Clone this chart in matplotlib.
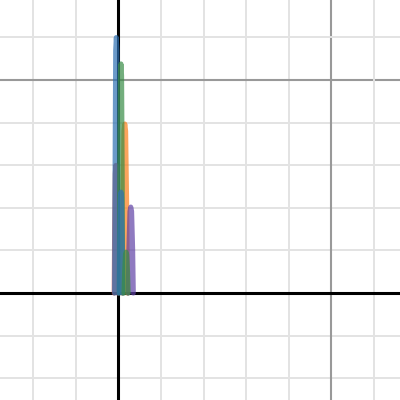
import matplotlib
matplotlib.use("Agg")
import matplotlib.pyplot as plt
import numpy as np

# Curves (x, y in grid units, axis origin at 0,0)
red_x = [-0.10, -0.09, -0.075, -0.06, -0.045, -0.03, -0.02]
red_y = [0.0, 1.5, 2.8, 3.0, 2.8, 1.5, 0.0]

blue_x = [-0.09, -0.08, -0.065, -0.05, -0.035, -0.02, -0.01]
blue_y = [0.0, 2.8, 5.7, 6.0, 5.7, 2.8, 0.0]

blue2_x = [0.02, 0.03, 0.045, 0.06, 0.075, 0.09, 0.10]
blue2_y = [0.0, 1.2, 2.25, 2.37, 2.25, 1.2, 0.0]

green_x = [0.02, 0.03, 0.045, 0.06, 0.075, 0.09, 0.10]
green_y = [0.0, 2.6, 5.1, 5.38, 5.1, 2.6, 0.0]

orange_x = [0.09, 0.105, 0.13, 0.15, 0.17, 0.195, 0.21]
orange_y = [0.0, 2.0, 3.8, 3.97, 3.8, 2.0, 0.0]

green2_x = [0.13, 0.145, 0.165, 0.18, 0.195, 0.215, 0.23]
green2_y = [0.0, 0.5, 0.9, 0.96, 0.9, 0.5, 0.0]

purple_x = [0.23, 0.245, 0.27, 0.29, 0.31, 0.335, 0.35]
purple_y = [0.0, 1.0, 1.92, 2.02, 1.92, 1.0, 0.0]

curves = [
    (red_x, red_y, "#c74440"),
    (orange_x, orange_y, "#fa7e19"),
    (blue_x, blue_y, "#2d70b3"),
    (green_x, green_y, "#388c46"),
    (blue2_x, blue2_y, "#2d70b3"),
    (purple_x, purple_y, "#6042a6"),
    (green2_x, green2_y, "#388c46"),
]

fig = plt.figure(figsize=(4, 4), dpi=100)
ax = fig.add_axes([0, 0, 1, 1])
ax.set_xlim(-2.78, 6.61)
ax.set_ylim(-2.51, 6.88)

# grid: minor every 1, major every 5
for v in range(-2, 7):
    c, lw = ("#999999", 1.5) if v % 5 == 0 else ("#e3e3e3", 1.4)
    if v != 0:
        ax.axvline(v, color=c, lw=lw, zorder=0)
        ax.axhline(v, color=c, lw=lw, zorder=0)
ax.axvline(0, color="black", lw=2.2, zorder=1)
ax.axhline(0, color="black", lw=2.2, zorder=1)

for xs, ys, col in curves:
    ax.plot(xs, ys, color=col, lw=3.6, alpha=0.7,
            solid_capstyle="round", solid_joinstyle="round", zorder=3)

ax.set_xticks([])
ax.set_yticks([])
for s in ax.spines.values():
    s.set_visible(False)

plt.savefig("out.png", dpi=100)
